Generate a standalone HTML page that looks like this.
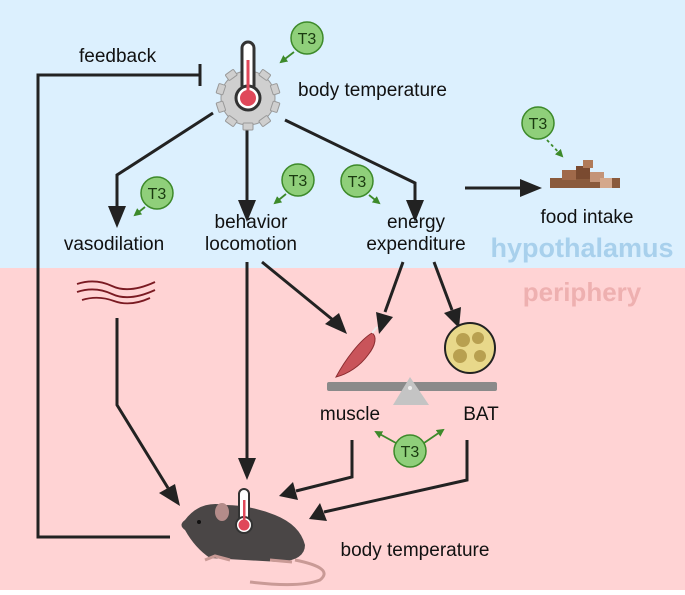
<!DOCTYPE html>
<html><head><meta charset="utf-8"><style>
html,body{margin:0;padding:0;}
body{width:685px;height:590px;overflow:hidden;font-family:"Liberation Sans",sans-serif;}
</style></head><body>
<svg width="685" height="590" viewBox="0 0 685 590" xmlns="http://www.w3.org/2000/svg" font-family="Liberation Sans, sans-serif">
<defs>
<marker id="g" markerWidth="8" markerHeight="8" refX="6" refY="4" orient="auto" markerUnits="userSpaceOnUse" viewBox="0 0 8 8"><path d="M0,0 L8,4 L0,8 z" fill="#3d8a2a"/></marker>
</defs>
<rect x="0" y="0" width="685" height="268" fill="#dcf0fe"/>
<rect x="0" y="268" width="685" height="322" fill="#ffd3d4"/>

<g stroke="#222" stroke-width="3" fill="none">
<polyline points="170,537 38,537 38,75 199,75"/>
<line x1="200" y1="64" x2="200" y2="86"/>
</g>
<g stroke="#222" stroke-width="3" fill="none">
<polyline points="213,113 117,175 117,207"/>
<polyline points="247,130 247,200"/>
<polyline points="285,120 415,183 415,200"/>
<line x1="465" y1="188" x2="520" y2="188"/>
<line x1="262" y1="262" x2="333" y2="320"/>
<line x1="403" y1="262" x2="385" y2="312"/>
<line x1="434" y1="262" x2="452" y2="310"/>
<polyline points="117,318 117,405 168,488"/>
<line x1="247" y1="262" x2="247" y2="458"/>
<polyline points="352,440 352,477 296,491"/>
<polyline points="467,440 467,480 324,512"/>
</g>
<g fill="#222">
<path d="M108,206 L126,206 L117,228 z"/>
<path d="M238,200 L256,200 L247,222 z"/>
<path d="M406,200 L424,200 L415,222 z"/>
<path d="M520,179 L542,188 L520,197 z"/>
<path d="M325,324 L339,313 L347,334 z"/>
<path d="M376,312 L393,317 L379,334 z"/>
<path d="M444,313 L461,307 L459,328 z"/>
<path d="M159,493 L175,484 L180,506 z"/>
<path d="M238,458 L256,458 L247,480 z"/>
<path d="M293,482 L279,496 L298,500 z"/>
<path d="M320,503 L309,519 L327,521 z"/>
</g>

<!-- gear -->
<g transform="translate(248,98)">
<g fill="#cfcfcf" stroke="#999" stroke-width="1">
<circle r="27"/>
<g id="t"><rect x="-5" y="-32" width="10" height="7" rx="1"/></g>
<use href="#t" transform="rotate(36)"/><use href="#t" transform="rotate(72)"/><use href="#t" transform="rotate(108)"/><use href="#t" transform="rotate(144)"/><use href="#t" transform="rotate(180)"/><use href="#t" transform="rotate(216)"/><use href="#t" transform="rotate(252)"/><use href="#t" transform="rotate(288)"/><use href="#t" transform="rotate(324)"/>
</g>
<rect x="-6" y="-56" width="12" height="50" rx="6" fill="#fff" stroke="#333" stroke-width="3"/>
<circle r="12" fill="#fff" stroke="#333" stroke-width="3"/>
<rect x="-1.5" y="-38" width="3" height="35" fill="#e0485a"/>
<circle r="8" fill="#e0485a"/>
</g>
<text x="298" y="96" font-size="19" fill="#111">body temperature</text>
<text x="79" y="62" font-size="19" fill="#111">feedback</text>

<!-- T3 -->
<g font-size="16" text-anchor="middle" fill="#1a3a10">
<g><circle cx="307" cy="38" r="16" fill="#8fcf7a" stroke="#3d8a2a" stroke-width="1.5"/><text x="307" y="44">T3</text></g>
<g><circle cx="538" cy="123" r="16" fill="#8fcf7a" stroke="#3d8a2a" stroke-width="1.5"/><text x="538" y="129">T3</text></g>
<g><circle cx="157" cy="193" r="16" fill="#8fcf7a" stroke="#3d8a2a" stroke-width="1.5"/><text x="157" y="199">T3</text></g>
<g><circle cx="298" cy="180" r="16" fill="#8fcf7a" stroke="#3d8a2a" stroke-width="1.5"/><text x="298" y="186">T3</text></g>
<g><circle cx="357" cy="181" r="16" fill="#8fcf7a" stroke="#3d8a2a" stroke-width="1.5"/><text x="357" y="187">T3</text></g>
<g><circle cx="410" cy="451" r="16" fill="#8fcf7a" stroke="#3d8a2a" stroke-width="1.5"/><text x="410" y="457">T3</text></g>
</g>
<g stroke="#3d8a2a" stroke-width="1.8" fill="none">
<line x1="294" y1="52" x2="281" y2="62" marker-end="url(#g)"/>
<line x1="145" y1="207" x2="135" y2="215" marker-end="url(#g)"/>
<line x1="286" y1="194" x2="275" y2="203" marker-end="url(#g)"/>
<line x1="369" y1="195" x2="379" y2="203" marker-end="url(#g)"/>
<line x1="547" y1="140" x2="562" y2="156" stroke-dasharray="3,3" marker-end="url(#g)"/>
<line x1="396" y1="443" x2="376" y2="432" marker-end="url(#g)"/>
<line x1="424" y1="443" x2="443" y2="430" marker-end="url(#g)"/>
</g>

<!-- food -->
<g>
<rect x="550" y="178" width="70" height="10" fill="#8a5a3c"/>
<rect x="562" y="170" width="14" height="10" fill="#a0694a"/>
<rect x="576" y="166" width="14" height="13" fill="#7a4a30"/>
<rect x="590" y="172" width="14" height="10" fill="#c49478"/>
<rect x="583" y="160" width="10" height="8" fill="#b07a58"/>
<rect x="600" y="178" width="12" height="10" fill="#d4a88c"/>
</g>
<text x="587" y="223" font-size="19" text-anchor="middle" fill="#111">food intake</text>
<text x="582" y="257" font-size="27" font-weight="bold" text-anchor="middle" fill="#a8d0ec">hypothalamus</text>
<text x="582" y="301" font-size="26" font-weight="bold" text-anchor="middle" fill="#eeb0b0">periphery</text>

<g font-size="19" text-anchor="middle" fill="#111">
<text x="114" y="250">vasodilation</text>
<text x="251" y="228">behavior</text>
<text x="251" y="250">locomotion</text>
<text x="416" y="228">energy</text>
<text x="416" y="250">expenditure</text>
<text x="350" y="420">muscle</text>
<text x="481" y="420">BAT</text>
<text x="415" y="556">body temperature</text>
</g>

<!-- waves -->
<g stroke="#7a1a22" stroke-width="1.8" fill="none">
<path d="M77,284 Q95,278 112,286 T155,282"/>
<path d="M77,292 Q95,286 112,294 T155,290"/>
<path d="M82,300 Q98,295 114,301 T150,298"/>
</g>

<!-- muscle -->
<path d="M336,377 C345,360 360,340 372,333 C377,336 376,345 368,355 C360,366 348,374 336,377 z" fill="#c9545a" stroke="#8a2c30" stroke-width="1"/>
<line x1="372" y1="333" x2="377" y2="327" stroke="#eee" stroke-width="2"/>
<!-- BAT -->
<circle cx="470" cy="348" r="25" fill="#e8d88a" stroke="#222" stroke-width="2"/>
<g fill="#b8a050"><circle cx="463" cy="340" r="7"/><circle cx="478" cy="338" r="6"/><circle cx="460" cy="356" r="7"/><circle cx="480" cy="356" r="6"/></g>
<!-- seesaw -->
<rect x="327" y="382" width="170" height="9" rx="2" fill="#8a8a8a"/>
<path d="M410,377 L429,405 L393,405 z" fill="#c4c4c4"/>
<circle cx="410" cy="388" r="2" fill="#eee"/>

<!-- mouse -->
<g>
<path d="M295,560 Q335,568 320,580 Q300,588 250,582" stroke="#c99a96" stroke-width="3" fill="none"/>
<path d="M185,520 Q200,500 225,505 Q250,505 275,515 Q300,525 305,545 Q305,560 280,562 L210,558 Q195,548 185,530 Q178,525 185,520 z" fill="#4a4646"/>
<ellipse cx="222" cy="512" rx="7" ry="9" fill="#b48c8a"/>
<circle cx="199" cy="522" r="2" fill="#111"/>
<path d="M205,560 L215,556 L230,560" stroke="#c99a96" stroke-width="3" fill="none"/>
<path d="M270,560 L292,562" stroke="#c99a96" stroke-width="3" fill="none"/>
<rect x="239" y="489" width="10" height="40" rx="5" fill="#fff" stroke="#333" stroke-width="2"/>
<circle cx="244" cy="525" r="8" fill="#fff" stroke="#333" stroke-width="2"/>
<rect x="243" y="500" width="2.5" height="22" fill="#e0485a"/>
<circle cx="244" cy="525" r="5.5" fill="#e0485a"/>
</g>
</svg>
</body></html>
